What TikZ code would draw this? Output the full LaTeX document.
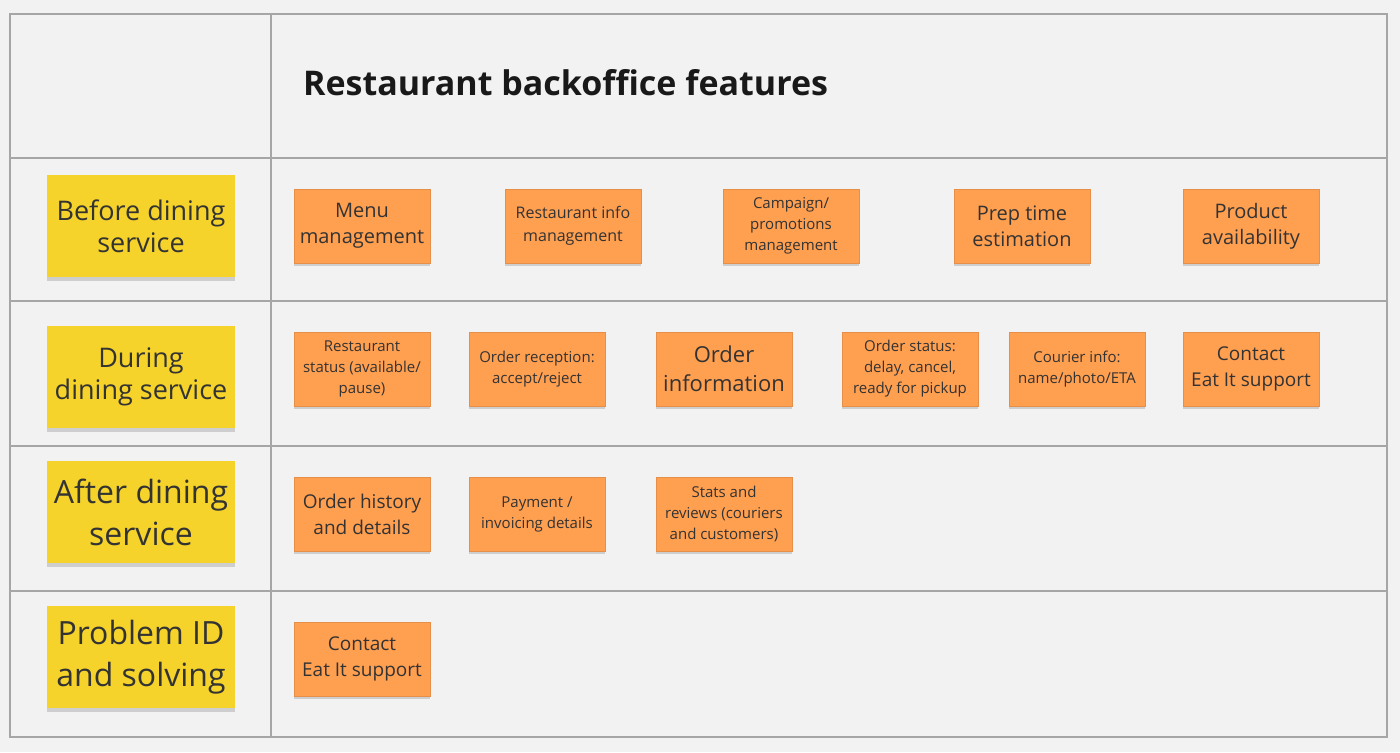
\documentclass[tikz,border=0pt]{standalone}
\usepackage{fontspec}
\setmainfont{Open Sans}
\definecolor{bg}{HTML}{F2F2F2}
\definecolor{grid}{HTML}{A6A6A6}
\definecolor{yel}{HTML}{F5D32A}
\definecolor{ora}{HTML}{FF9F50}
\definecolor{txt}{HTML}{333333}
\begin{document}
\begin{tikzpicture}[x=0.5pt,y=-0.5pt,
  ynote/.style={fill=yel, minimum width=94pt, minimum height=51pt, inner sep=0pt, align=center, font=\fontsize{13.5}{16}\selectfont, text=txt,
    preaction={fill=black!45, opacity=0.35, transform canvas={yshift=-2pt}}},
  onote/.style={fill=ora, draw=ora!90!black, line width=0.3pt, minimum width=68pt, minimum height=37pt, inner sep=0pt, align=center, text=txt,
    preaction={fill=black!45, opacity=0.35, transform canvas={yshift=-1.5pt}}},
  big/.style={font=\fontsize{10}{13}\selectfont},
  small/.style={font=\fontsize{7.5}{10.5}\selectfont}]
\fill[bg] (0,0) rectangle (1400,752);
\useasboundingbox (0,0) rectangle (1400,752);
\draw[grid, line width=0.6pt] (10,14) rectangle (1387,737);
\draw[grid, line width=0.6pt] (271,14) -- (271,737);
\foreach \y in {158,301,446,591} \draw[grid, line width=0.6pt] (10,\y) -- (1387,\y);
\node[anchor=west, font=\bfseries\fontsize{17}{20}\selectfont, text=black!90] (title) at (296,83) {Restaurant backoffice features};
% yellow
\node[ynote] (y1) at (141,226) {Before dining\\service};
\node[ynote] (y2) at (141,377) {During\\dining service};
\node[ynote, font=\fontsize{16}{21}\selectfont] (y3) at (141,512) {After dining\\service};
\node[ynote, font=\fontsize{16}{21}\selectfont] (y4) at (141,657) {Problem ID\\and solving};
% row1
\node[onote,big] (a1) at (362,226) {Menu\\management};
\node[onote,small,font=\fontsize{8}{11.5}\selectfont] (a2) at (573,226) {Restaurant info\\management};
\node[onote,small] (a3) at (791,226) {Campaign/\\promotions\\management};
\node[onote,big] (a4) at (1022,226) {Prep time\\estimation};
\node[onote,big] (a5) at (1251,226) {Product\\availability};
% row2
\node[onote,small] (b1) at (362,369) {Restaurant\\status (available/\\pause)};
\node[onote,small] (b2) at (537,369) {Order reception:\\accept/reject};
\node[onote,big,font=\fontsize{11}{14.5}\selectfont] (b3) at (724,369) {Order\\information};
\node[onote,small] (b4) at (910,369) {Order status:\\delay, cancel,\\ready for pickup};
\node[onote,small] (b5) at (1077,369) {Courier info:\\name/photo/ETA};
\node[onote,big,font=\fontsize{9.5}{13}\selectfont] (b6) at (1251,369) {Contact\\Eat It support};
% row3
\node[onote,big,font=\fontsize{9.5}{13}\selectfont] (c1) at (362,514) {Order history\\and details};
\node[onote,small] (c2) at (537,514) {Payment /\\invoicing details};
\node[onote,small] (c3) at (724,514) {Stats and\\reviews (couriers\\and customers)};
% row4
\node[onote,big,font=\fontsize{9.5}{13}\selectfont] (d1) at (362,659) {Contact\\Eat It support};
\end{tikzpicture}
\end{document}
